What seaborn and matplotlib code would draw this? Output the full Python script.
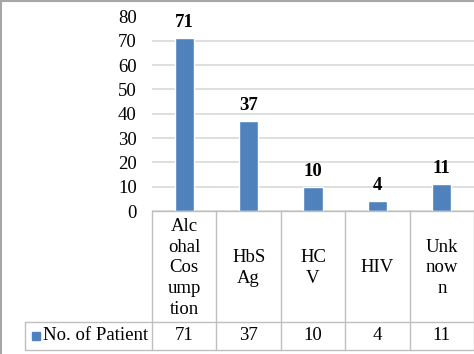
import matplotlib
matplotlib.use("Agg")
import matplotlib.pyplot as plt
import seaborn as sns
import pandas as pd
from matplotlib.lines import Line2D
from matplotlib.patches import Rectangle

# ---- data ----
categories = ["Alc\nohal\nCos\nump\ntion", "HbS\nAg", "HC\nV", "HIV", "Unk\nnow\nn"]
patients = [71, 37, 10, 4, 11]
series_name = "No. of Patient"
y_ticks = [0, 10, 20, 30, 40, 50, 60, 70, 80]

bar_color = "#4f81bd"
grid_color = "#d9d9d9"
line_color = "#bfbfbf"

sns.set_theme(style="white")
plt.rcParams["font.family"] = ["Liberation Serif", "DejaVu Serif"]
plt.rcParams["text.color"] = "black"
plt.rcParams["ytick.color"] = "black"
FS = 13.5

W, H = 474, 354
fig = plt.figure(figsize=(W / 100, H / 100), dpi=100)

# axes placement in pixels
AX_L, AX_R, AX_T, AX_B = 152, 474, 16.5, 211
ax = fig.add_axes([AX_L / W, 1 - AX_B / H, (AX_R - AX_L) / W, (AX_B - AX_T) / H])


def yfrac(py):
    """pixel row -> axes fraction"""
    return (AX_B - py) / (AX_B - AX_T)


def fx(px):
    return px / W


def fy(py):
    return 1 - py / H


df = pd.DataFrame({"cat": categories, "val": patients})
sns.barplot(data=df, x="cat", y="val", color=bar_color, width=0.3,
            saturation=1, ax=ax, zorder=3)

ax.set_xlim(-0.5, len(categories) - 0.5)
ax.set_ylim(0, 80)
ax.set_yticks(y_ticks)
ax.set_yticklabels([str(t) for t in y_ticks], fontsize=FS, color="black")
ax.tick_params(axis="y", length=0, pad=11)
ax.set_xticks([])
ax.set_xlabel("")
ax.set_ylabel("")
ax.yaxis.grid(True, color=grid_color, linewidth=1.2, zorder=0)
for s in ax.spines.values():
    s.set_visible(False)

ax.bar_label(ax.containers[0], fontsize=FS, fontweight="bold", padding=5,
             color="black")

# ---- data table under the chart ----
trans = ax.get_xaxis_transform()
lw = 1.0
ax.plot([-0.5, len(categories) - 0.5], [0, 0], color=line_color, lw=lw,
        transform=trans, clip_on=False, zorder=4)
for i in range(len(categories) + 1):
    ax.plot([i - 0.5, i - 0.5], [0, yfrac(350)], color=line_color, lw=lw,
            transform=trans, clip_on=False)

for py in (322, 350):
    fig.add_artist(Line2D([fx(25), 1], [fy(py), fy(py)], color=line_color, lw=lw))
fig.add_artist(Line2D([fx(25), fx(25)], [fy(322), fy(350)], color=line_color, lw=lw))

for i, (cat, v) in enumerate(zip(categories, patients)):
    ax.text(i, yfrac(268), cat, transform=trans, ha="center", va="center",
            fontsize=FS, linespacing=1.3, clip_on=False)
    ax.text(i, yfrac(336), str(v), transform=trans, ha="center", va="center",
            fontsize=FS, clip_on=False)

fig.add_artist(Rectangle((fx(32), fy(340)), 8 / W, 8 / H, color=bar_color,
                         transform=fig.transFigure))
fig.text(fx(43), fy(336), series_name, ha="left", va="center", fontsize=FS)

# outer border remnants (top and left)
fig.add_artist(Line2D([0, 1], [fy(1), fy(1)], color="#a6a6a6", lw=1.5))
fig.add_artist(Line2D([fx(1), fx(1)], [0, 1], color="#a6a6a6", lw=1.5))

fig.savefig("out.png", dpi=100)
